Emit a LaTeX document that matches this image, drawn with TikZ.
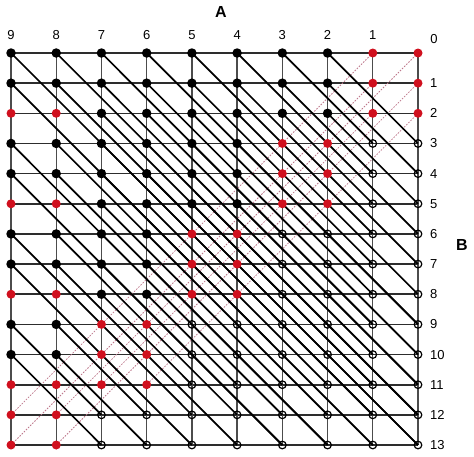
\documentclass[tikz,border=0pt]{standalone}
\usepackage{fontspec}
\setmainfont{Liberation Sans}
\definecolor{dotred}{RGB}{208,16,30}
\definecolor{pinkdot}{RGB}{190,120,140}
\definecolor{gridgray}{RGB}{45,45,45}
\begin{document}
\begin{tikzpicture}[x=1pt,y=-1pt,
  hline/.style={line width=1.6pt,draw=gridgray},
  vline/.style={line width=1.3pt,draw=gridgray!85},
  diag/.style={line width=1.7pt,draw=black},
  pinkline/.style={line width=0.8pt,draw=pinkdot,dash pattern=on 1.6pt off 1.4pt},
  blackdot/.style={circle,fill=black,inner sep=0pt,minimum size=9.5pt},
  reddot/.style={circle,fill=dotred,inner sep=0pt,minimum size=9pt},
  hollowdot/.style={circle,draw=black,line width=1.2pt,inner sep=0pt,minimum size=7.6pt},
  lab/.style={font=\fontsize{13}{15}\selectfont,inner sep=0pt},
  axislab/.style={font=\fontsize{16}{18}\selectfont\bfseries,inner sep=0pt}]
\useasboundingbox (0,0) rectangle (474,456);
% lattice points
\foreach \a in {0,...,9}{
  \foreach \b in {0,...,13}{
    \pgfmathsetmacro{\px}{418-45.22*\a}
    \pgfmathsetmacro{\py}{53+30.154*\b}
    \coordinate (p-\a-\b) at (\px,\py);
  }
}
% grid
\foreach \b in {0,...,13} \draw[hline] (p-9-\b) -- (p-0-\b);
\foreach \a in {0,...,9} \draw[vline] (p-\a-0) -- (p-\a-13);
% pink dotted lines
\draw[pinkline] (p-0-0) -- (p-8-12);
\draw[pinkline] (p-1-0) -- (p-9-12);
\draw[pinkline] (p-0-1) -- (p-8-13);
\draw[pinkline] (p-1-1) -- (p-9-13);
\draw[pinkline] (p-0-2) -- (p-6-11);
\draw[pinkline] (p-1-2) -- (p-7-11);
% diagonal chains from black points, ending at the last lattice point
\foreach \a in {0,...,9}{
  \foreach \b in {0,...,13}{
    \pgfmathtruncatemacro{\ka}{floor(\a/2)}
    \pgfmathtruncatemacro{\kb}{floor(\b/3)}
    \pgfmathtruncatemacro{\mb}{mod(\b,3)}
    \pgfmathtruncatemacro{\ty}{ifthenelse(\ka<\kb,0,ifthenelse(\ka==\kb,1,ifthenelse(\a>7,ifthenelse(\mb==2,1,2),2)))}
    \ifnum\ty=2
      \pgfmathtruncatemacro{\k}{min(floor(\a/2),floor((13-\b)/3))}
      \pgfmathtruncatemacro{\ea}{\a-2*\k}
      \pgfmathtruncatemacro{\eb}{\b+3*\k}
      \draw[diag] (p-\a-\b) -- (p-\ea-\eb);
    \fi
  }
}
% dots
\foreach \a in {0,...,9}{
  \foreach \b in {0,...,13}{
    \pgfmathtruncatemacro{\ka}{floor(\a/2)}
    \pgfmathtruncatemacro{\kb}{floor(\b/3)}
    \pgfmathtruncatemacro{\mb}{mod(\b,3)}
    \pgfmathtruncatemacro{\ty}{ifthenelse(\ka<\kb,0,ifthenelse(\ka==\kb,1,ifthenelse(\a>7,ifthenelse(\mb==2,1,2),2)))}
    \ifcase\ty
      \node[hollowdot] (d-\a-\b) at (p-\a-\b) {};
    \or
      \node[reddot] (d-\a-\b) at (p-\a-\b) {};
    \or
      \node[blackdot] (d-\a-\b) at (p-\a-\b) {};
    \fi
  }
}
% labels
\foreach \a in {1,...,9}{
  \pgfmathsetmacro{\px}{418-45.22*\a}
  \node[lab] (la-\a) at (\px,35) {\a};
}
\node[lab] (lb-0) at (434,39.5) {0};
\foreach \b in {1,...,13}{
  \pgfmathsetmacro{\py}{53+30.154*\b}
  \node[lab,anchor=west] (lb-\b) at (430,\py) {\b};
}
\node[axislab] (A) at (221,12) {A};
\node[axislab] (B) at (462,245) {B};
\end{tikzpicture}
\end{document}
